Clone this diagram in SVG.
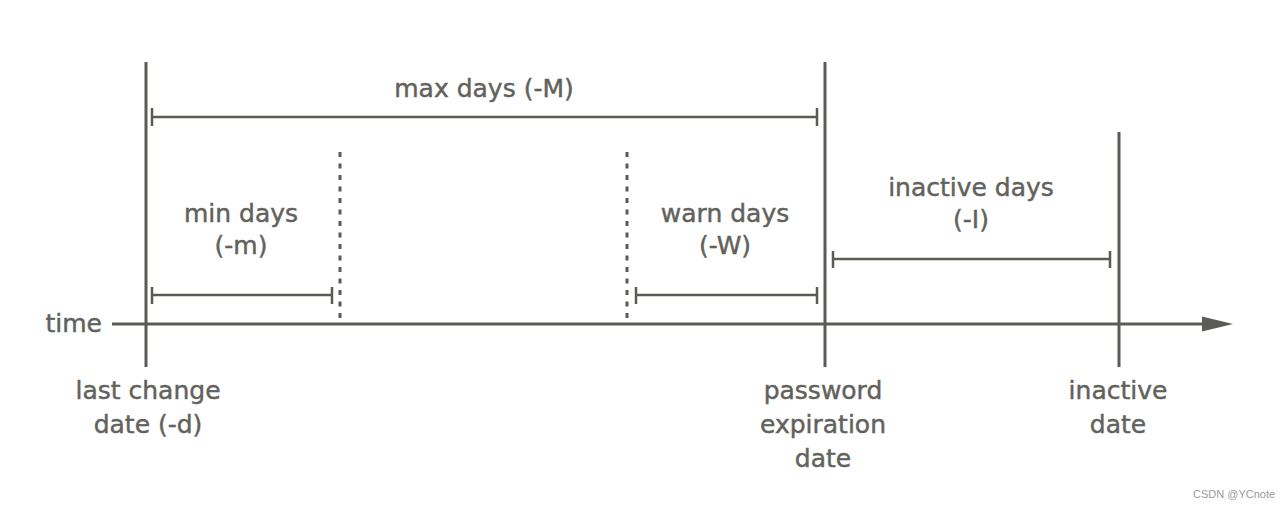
<svg xmlns="http://www.w3.org/2000/svg" width="1287" height="508" viewBox="0 0 1287 508">
<style>
.ln{stroke:#5b5b56;stroke-width:3;fill:none}
.bar{stroke:#5b5b56;stroke-width:2.5;fill:none}
.dot{stroke:#5b5b56;stroke-width:3;fill:none;stroke-dasharray:5 6.5}
.t{font-family:"DejaVu Sans",sans-serif;font-size:25px;fill:#62625d;stroke:#62625d;stroke-width:0.45;text-anchor:middle}
.wm{font-family:"Liberation Sans",sans-serif;font-size:11px;fill:#9a9a9a}
</style>
<rect width="1287" height="508" fill="#ffffff"/>
<g id="connectors">
<line class="ln" x1="112" y1="324" x2="1204" y2="324"/>
<polygon points="1202,316.5 1233,324 1202,331.5" fill="#5b5b56"/>
<line class="ln" x1="146" y1="62" x2="146" y2="367"/>
<line class="ln" x1="825" y1="62" x2="825" y2="367"/>
<line class="ln" x1="1119" y1="132" x2="1119" y2="367"/>
<line class="dot" x1="340" y1="152" x2="340" y2="318"/>
<line class="dot" x1="627" y1="152" x2="627" y2="318"/>
<path class="bar" d="M152,117H817M152,108V126M817,108V126"/>
<path class="bar" d="M152,295H332M152,287V304M332,287V304"/>
<path class="bar" d="M636,295H817M636,287V304M817,287V304"/>
<path class="bar" d="M833,259H1110M833,251V268M1110,251V268"/>
</g>
<g id="time"><text class="t" x="102" y="332" style="text-anchor:end">time</text></g>
<g id="max-days"><text class="t" x="484" y="97">max days (-M)</text></g>
<g id="min-days"><text class="t" x="241" y="222">min days</text><text class="t" x="241" y="254">(-m)</text></g>
<g id="warn-days"><text class="t" x="725" y="222">warn days</text><text class="t" x="725" y="254">(-W)</text></g>
<g id="inactive-days"><text class="t" x="971" y="196">inactive days</text><text class="t" x="971" y="228">(-I)</text></g>
<g id="last-change"><text class="t" x="148" y="399">last change</text><text class="t" x="148" y="433">date (-d)</text></g>
<g id="password-expiration"><text class="t" x="823" y="399">password</text><text class="t" x="823" y="433">expiration</text><text class="t" x="823" y="467">date</text></g>
<g id="inactive-date"><text class="t" x="1118" y="399">inactive</text><text class="t" x="1118" y="433">date</text></g>
<text class="wm" x="1193" y="498">CSDN @YCnote</text>
</svg>
